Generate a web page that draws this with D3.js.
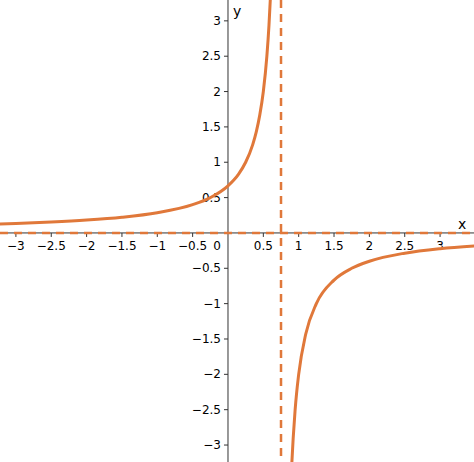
<!DOCTYPE html>
<html><head><meta charset="utf-8">
<script src="https://cdn.jsdelivr.net/npm/d3@7"></script>
<style>body{margin:0;background:#fff}svg{display:block}text{font-family:"DejaVu Sans",sans-serif;font-size:12px}</style>
</head><body>
<script>
const leftX=[-3.3,-3,-2.5,-2,-1.5,-1,-0.5,-0.25,0,0.15,0.25,0.35,0.4,0.45,0.5,0.55,0.58,0.6,0.62];
const leftY=[0.123,0.133,0.154,0.182,0.222,0.286,0.4,0.5,0.667,0.833,1.0,1.25,1.43,1.67,2.0,2.5,2.94,3.33,3.85];
const rightX=[0.87,0.9,0.95,1.0,1.1,1.25,1.5,1.75,2,2.5,3,3.5];
const rightY=[-4.17,-3.33,-2.5,-2.0,-1.43,-1.0,-0.667,-0.5,-0.4,-0.286,-0.222,-0.182];
const xTicks=[-3,-2.5,-2,-1.5,-1,-0.5,0.5,1,1.5,2,2.5,3];
const yTicks=[-3,-2.5,-2,-1.5,-1,-0.5,0.5,1,1.5,2,2.5,3];
const asymX=0.75, asymY=0;
const W=474,H=462,col="#e0783a";
const x=d3.scaleLinear().domain([-3.225,3.48]).range([0,W]);
const y=d3.scaleLinear().domain([3.295,-3.24]).range([0,H]);
const svg=d3.select("body").append("svg").attr("width",W).attr("height",H);
const fmt=v=>(v<0?"\u2212":"")+Math.abs(v);
// axes
svg.append("line").attr("x1",0).attr("x2",W).attr("y1",y(0)).attr("y2",y(0)).attr("stroke","#333").attr("stroke-width",1);
svg.append("line").attr("y1",0).attr("y2",H).attr("x1",x(0)).attr("x2",x(0)).attr("stroke","#333").attr("stroke-width",1);
svg.selectAll(".xt").data(xTicks).enter().append("line").attr("x1",d=>x(d)).attr("x2",d=>x(d)).attr("y1",y(0)).attr("y2",y(0)+4).attr("stroke","#333");
svg.selectAll(".yt").data(yTicks).enter().append("line").attr("y1",d=>y(d)).attr("y2",d=>y(d)).attr("x1",x(0)-4).attr("x2",x(0)).attr("stroke","#333");
svg.selectAll(".xl").data(xTicks).enter().append("text").attr("x",d=>x(d)).attr("y",y(0)+17).attr("text-anchor","middle").text(fmt);
svg.selectAll(".yl").data(yTicks).enter().append("text").attr("x",x(0)-7).attr("y",d=>y(d)+4).attr("text-anchor","end").text(fmt);
svg.append("text").attr("x",x(0)-7).attr("y",y(0)+17).attr("text-anchor","end").text("0");
svg.append("text").attr("x",W-16).attr("y",y(0)-4).style("font-size","14px").text("x");
svg.append("text").attr("x",x(0)+5).attr("y",16).style("font-size","14px").text("y");
// asymptotes
svg.append("line").attr("x1",0).attr("x2",W).attr("y1",y(asymY)).attr("y2",y(asymY)).attr("stroke",col).attr("stroke-width",2.5).attr("stroke-dasharray","8,6");
svg.append("line").attr("x1",x(asymX)).attr("x2",x(asymX)).attr("y1",0).attr("y2",H).attr("stroke",col).attr("stroke-width",2.5).attr("stroke-dasharray","8,6");
const line=d3.line().x(d=>x(d[0])).y(d=>y(d[1])).curve(d3.curveMonotoneX);
svg.append("path").attr("d",line(d3.zip(leftX,leftY))).attr("fill","none").attr("stroke",col).attr("stroke-width",3);
svg.append("path").attr("d",line(d3.zip(rightX,rightY))).attr("fill","none").attr("stroke",col).attr("stroke-width",3);
</script>
</body></html>
